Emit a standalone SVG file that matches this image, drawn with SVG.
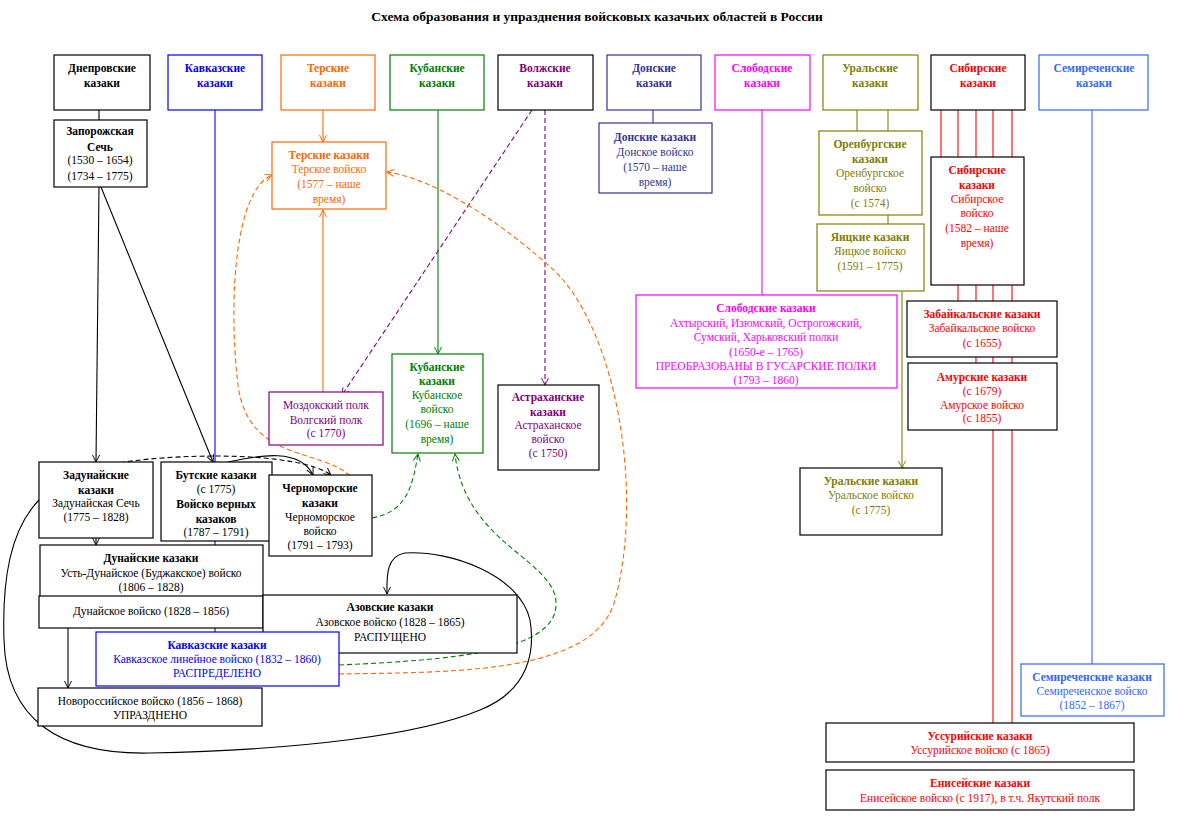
<svg xmlns="http://www.w3.org/2000/svg" width="1181" height="822" viewBox="0 0 1181 822">
<defs>
<style>
text{font-family:"Liberation Serif","Times New Roman",serif;font-size:11.5px;text-anchor:middle}
.b{font-weight:bold}
rect{fill:#fff;stroke-width:1.2}
.k{stroke:#000}.bl{stroke:#0000FF}.or{stroke:#FF6600}.gr{stroke:#008000}.pu{stroke:#800080}.nv{stroke:#333399}.mg{stroke:#FF00FF}.ol{stroke:#808000}.rd{stroke:#FF0000}.sb{stroke:#3366FF}
.tk{fill:#000}.tbl{fill:#0000FF}.tor{fill:#FF6600}.tgr{fill:#008000}.tpu{fill:#800080}.tnv{fill:#333399}.tmg{fill:#FF00FF}.tol{fill:#808000}.trd{fill:#FF0000}.tsb{fill:#3366FF}
path,line{fill:none;stroke-width:1.1}
.d{stroke-dasharray:5,3}
</style>
<marker id="ak" viewBox="0 0 10 10" refX="9" refY="5" markerWidth="8" markerHeight="8" orient="auto"><path d="M1,1 L9,5 L1,9" stroke="#000" fill="none" stroke-width="1.2"/></marker>
<marker id="aor" viewBox="0 0 10 10" refX="9" refY="5" markerWidth="8" markerHeight="8" orient="auto"><path d="M1,1 L9,5 L1,9" stroke="#FF6600" fill="none" stroke-width="1.2"/></marker>
<marker id="agr" viewBox="0 0 10 10" refX="9" refY="5" markerWidth="8" markerHeight="8" orient="auto"><path d="M1,1 L9,5 L1,9" stroke="#008000" fill="none" stroke-width="1.2"/></marker>
<marker id="apu" viewBox="0 0 10 10" refX="9" refY="5" markerWidth="8" markerHeight="8" orient="auto"><path d="M1,1 L9,5 L1,9" stroke="#800080" fill="none" stroke-width="1.2"/></marker>
<marker id="aol" viewBox="0 0 10 10" refX="9" refY="5" markerWidth="8" markerHeight="8" orient="auto"><path d="M1,1 L9,5 L1,9" stroke="#808000" fill="none" stroke-width="1.2"/></marker>
</defs>
<rect x="0" y="0" width="1181" height="822" style="fill:#fff;stroke:none"/>
<text x="597" y="21" class="b" style="font-size:13.5px">Схема образования и упразднения войсковых казачьих областей в России</text>

<g id="connectors">
<line x1="215" y1="110" x2="215" y2="632" stroke="#0000FF"/>
<line x1="99" y1="110" x2="99" y2="120" stroke="#000"/>
<line x1="323" y1="110" x2="323" y2="142" stroke="#FF6600" marker-end="url(#aor)"/>
<line x1="438" y1="110" x2="438" y2="354" stroke="#008000" marker-end="url(#agr)"/>
<line x1="545" y1="110" x2="545" y2="385" stroke="#800080" class="d" marker-end="url(#apu)"/>
<line x1="532" y1="110" x2="342" y2="395" stroke="#800080" class="d" marker-end="url(#apu)"/>
<line x1="653" y1="110" x2="653" y2="123" stroke="#333399"/>
<line x1="762" y1="110" x2="762" y2="295" stroke="#FF00FF"/>
<line x1="857" y1="110" x2="857" y2="131" stroke="#808000"/>
<line x1="888" y1="110" x2="888" y2="131" stroke="#808000"/>
<line x1="888" y1="215" x2="888" y2="224" stroke="#808000"/>
<line x1="902" y1="291" x2="902" y2="468" stroke="#808000" marker-end="url(#aol)"/>
<line x1="941" y1="110" x2="941" y2="157" stroke="#FF0000"/>
<line x1="958" y1="110" x2="958" y2="301" stroke="#FF0000"/>
<line x1="976" y1="110" x2="976" y2="363" stroke="#FF0000"/>
<line x1="993" y1="110" x2="993" y2="723" stroke="#FF0000"/>
<line x1="1012" y1="110" x2="1012" y2="723" stroke="#FF0000"/>
<line x1="1092" y1="110" x2="1092" y2="664" stroke="#3366FF"/>
<line x1="323" y1="392" x2="323" y2="210" stroke="#FF6600" marker-end="url(#aor)"/>
<line x1="99" y1="187" x2="96" y2="462" stroke="#000" marker-end="url(#ak)"/>
<line x1="101" y1="187" x2="213" y2="462" stroke="#000" marker-end="url(#ak)"/>
<line x1="96" y1="538" x2="96" y2="545" stroke="#000" marker-end="url(#ak)"/>
<line x1="68" y1="628" x2="68" y2="688" stroke="#000" marker-end="url(#ak)"/>
<path d="M112,464 C180,452 300,452 331,475" stroke="#000" class="d" marker-end="url(#ak)"/>
<path d="M228,462 C260,455 300,448 313,475" stroke="#000" marker-end="url(#ak)"/>
<path d="M350,476 C320,448 248,462 238,385 C228,300 235,190 272,175" stroke="#FF6600" class="d" marker-end="url(#aor)"/>
<path d="M372,518 C405,512 412,490 418,454" stroke="#008000" class="d" marker-end="url(#agr)"/>
<path d="M339,665 C450,660 555,652 556,605 C558,560 465,545 455,454" stroke="#008000" class="d" marker-end="url(#agr)"/>
<path d="M339,674 C450,672 595,675 615,600 C645,490 615,320 548,265 C492,215 430,178 387,172" stroke="#FF6600" class="d" marker-end="url(#aor)"/>
<path d="M39,500 C10,530 2,580 4,640 C6,720 60,755 150,753 C300,750 420,735 480,710 C530,690 535,650 530,620 C520,575 450,550 405,553 C385,556 387,580 387,594" stroke="#000" marker-end="url(#ak)"/>
</g>

<g id="n-dnepr"><rect x="54" y="55" width="96" height="55" class="k"/><text x="102" y="72" class="b tk">Днепровские</text><text x="102" y="87" class="b tk">казаки</text></g>
<g id="n-kavkaz"><rect x="168" y="55" width="94" height="55" class="bl"/><text x="215" y="72" class="b tbl">Кавказские</text><text x="215" y="87" class="b tbl">казаки</text></g>
<g id="n-terek"><rect x="281" y="55" width="94" height="55" class="or"/><text x="328" y="72" class="b tor">Терские</text><text x="328" y="87" class="b tor">казаки</text></g>
<g id="n-kuban"><rect x="390" y="55" width="94" height="55" class="gr"/><text x="437" y="72" class="b tgr">Кубанские</text><text x="437" y="87" class="b tgr">казаки</text></g>
<g id="n-volga"><rect x="498" y="55" width="95" height="55" class="k"/><text x="545" y="72" class="b tpu">Волжские</text><text x="545" y="87" class="b tpu">казаки</text></g>
<g id="n-don"><rect x="607" y="55" width="94" height="55" class="nv"/><text x="654" y="72" class="b tnv">Донские</text><text x="654" y="87" class="b tnv">казаки</text></g>
<g id="n-slob"><rect x="715" y="55" width="95" height="55" class="mg"/><text x="762" y="72" class="b tmg">Слободские</text><text x="762" y="87" class="b tmg">казаки</text></g>
<g id="n-ural"><rect x="823" y="55" width="95" height="55" class="ol"/><text x="870" y="72" class="b tol">Уральские</text><text x="870" y="87" class="b tol">казаки</text></g>
<g id="n-sib"><rect x="931" y="55" width="94" height="55" class="k"/><text x="978" y="72" class="b trd">Сибирские</text><text x="978" y="87" class="b trd">казаки</text></g>
<g id="n-semi"><rect x="1039" y="55" width="109" height="55" class="sb"/><text x="1094" y="72" class="b tsb">Семиреченские</text><text x="1094" y="87" class="b tsb">казаки</text></g>

<g id="n-zap"><rect x="54" y="120" width="93" height="67" class="k"/><text x="100" y="135" class="b tk">Запорожская</text><text x="100" y="151" class="b tk">Сечь</text><text x="100" y="164">(1530 – 1654)</text><text x="100" y="180">(1734 – 1775)</text></g>
<g id="n-terek2"><rect x="272" y="142" width="114" height="67" class="or"/><text x="329" y="159" class="b tor">Терские казаки</text><text x="329" y="173" class="tor">Терское войско</text><text x="329" y="188" class="tor">(1577 – наше</text><text x="329" y="203" class="tor">время)</text></g>
<g id="n-don2"><rect x="599" y="123" width="113" height="70" class="nv"/><text x="655" y="141" class="b tnv">Донские казаки</text><text x="655" y="156" class="tnv">Донское войско</text><text x="655" y="171" class="tnv">(1570 – наше</text><text x="655" y="186" class="tnv">время)</text></g>
<g id="n-orenb"><rect x="819" y="131" width="103" height="84" class="ol"/><text x="870" y="148" class="b tol">Оренбургские</text><text x="870" y="163" class="b tol">казаки</text><text x="870" y="177" class="tol">Оренбургское</text><text x="870" y="192" class="tol">войско</text><text x="870" y="207" class="tol">(с 1574)</text></g>
<g id="n-sib2"><rect x="931" y="157" width="93" height="128" class="k"/><text x="977" y="174" class="b trd">Сибирские</text><text x="977" y="189" class="b trd">казаки</text><text x="977" y="203" class="trd">Сибирское</text><text x="977" y="217" class="trd">войско</text><text x="977" y="232" class="trd">(1582 – наше</text><text x="977" y="247" class="trd">время)</text></g>
<g id="n-yaik"><rect x="817" y="224" width="107" height="67" class="ol"/><text x="870" y="241" class="b tol">Яицкие казаки</text><text x="870" y="255" class="tol">Яицкое войско</text><text x="870" y="270" class="tol">(1591 – 1775)</text></g>
<g id="n-slob2"><rect x="636" y="295" width="261" height="93" class="mg"/><text x="766" y="312" class="b tmg">Слободские казаки</text><text x="766" y="327" class="tmg">Ахтырский, Изюмский, Острогожский,</text><text x="766" y="341" class="tmg">Сумский, Харьковский полки</text><text x="766" y="356" class="tmg">(1650-е – 1765)</text><text x="766" y="370" class="tmg">ПРЕОБРАЗОВАНЫ В ГУСАРСКИЕ ПОЛКИ</text><text x="766" y="384" class="tmg">(1793 – 1860)</text></g>
<g id="n-zabayk"><rect x="907" y="301" width="150" height="56" class="k"/><text x="982" y="318" class="b trd">Забайкальские казаки</text><text x="982" y="332" class="trd">Забайкальское войско</text><text x="982" y="347" class="trd">(с 1655)</text></g>
<g id="n-amur"><rect x="908" y="363" width="149" height="67" class="k"/><text x="982" y="381" class="b trd">Амурские казаки</text><text x="982" y="395" class="trd">(с 1679)</text><text x="982" y="409" class="trd">Амурское войско</text><text x="982" y="422" class="trd">(с 1855)</text></g>
<g id="n-mozdok"><rect x="269" y="392" width="114" height="53" class="pu"/><text x="326" y="409" class="tpu">Моздокский полк</text><text x="326" y="424" class="tpu">Волгский полк</text><text x="326" y="437" class="tpu">(с 1770)</text></g>
<g id="n-kuban2"><rect x="392" y="354" width="91" height="99" class="gr"/><text x="437" y="371" class="b tgr">Кубанские</text><text x="437" y="385" class="b tgr">казаки</text><text x="437" y="399" class="tgr">Кубанское</text><text x="437" y="413" class="tgr">войско</text><text x="437" y="428" class="tgr">(1696 – наше</text><text x="437" y="443" class="tgr">время)</text></g>
<g id="n-astr"><rect x="498" y="385" width="101" height="85" class="k"/><text x="548" y="401" class="b tpu">Астраханские</text><text x="548" y="416" class="b tpu">казаки</text><text x="548" y="429" class="tpu">Астраханское</text><text x="548" y="443" class="tpu">войско</text><text x="548" y="457" class="tpu">(с 1750)</text></g>
<g id="n-ural2"><rect x="800" y="468" width="142" height="67" class="k"/><text x="871" y="485" class="b tol">Уральские казаки</text><text x="871" y="499" class="tol">Уральское войско</text><text x="871" y="514" class="tol">(с 1775)</text></g>
<g id="n-semi2"><rect x="1021" y="664" width="143" height="52" class="sb"/><text x="1092" y="681" class="b tsb">Семиреченские казаки</text><text x="1092" y="695" class="tsb">Семиреченское войско</text><text x="1092" y="709" class="tsb">(1852 – 1867)</text></g>
<g id="n-ussur"><rect x="826" y="723" width="308" height="39" class="k"/><text x="980" y="740" class="b trd">Уссурийские казаки</text><text x="980" y="754" class="trd">Уссурийское войско (с 1865)</text></g>
<g id="n-enis"><rect x="826" y="770" width="308" height="40" class="k"/><text x="980" y="787" class="b trd">Енисейские казаки</text><text x="980" y="802" class="trd">Енисейское войско (с 1917), в т.ч. Якутский полк</text></g>

<g id="n-zadun"><rect x="39" y="462" width="114" height="76" class="k"/><text x="96" y="479" class="b tk">Задунайские</text><text x="96" y="494" class="b tk">казаки</text><text x="96" y="507">Задунайская Сечь</text><text x="96" y="521">(1775 – 1828)</text></g>
<g id="n-butsk"><rect x="161" y="462" width="111" height="79" class="k"/><text x="216" y="479" class="b tk">Бутские казаки</text><text x="216" y="493">(с 1775)</text><text x="216" y="508" class="b tk">Войско верных</text><text x="216" y="523" class="b tk">казаков</text><text x="216" y="536">(1787 – 1791)</text></g>
<g id="n-chern"><rect x="269" y="475" width="103" height="81" class="k"/><text x="320" y="492" class="b tk">Черноморские</text><text x="320" y="507" class="b tk">казаки</text><text x="320" y="521">Черноморское</text><text x="320" y="535">войско</text><text x="320" y="549">(1791 – 1793)</text></g>
<g id="n-dunk"><rect x="40" y="545" width="223" height="57" class="k"/><text x="151" y="562" class="b tk">Дунайские казаки</text><text x="151" y="577">Усть-Дунайское (Буджакское) войско</text><text x="151" y="591">(1806 – 1828)</text></g>
<g id="n-dunv"><rect x="39" y="596" width="224" height="32" class="k"/><text x="151" y="615">Дунайское войско (1828 – 1856)</text></g>
<g id="n-azov"><rect x="263" y="595" width="254" height="58" class="k"/><text x="390" y="611" class="b tk">Азовские казаки</text><text x="390" y="626">Азовское войско (1828 – 1865)</text><text x="390" y="641">РАСПУЩЕНО</text></g>
<g id="n-kavkaz2"><rect x="96" y="632" width="243" height="54" class="bl"/><text x="217" y="649" class="b tbl">Кавказские казаки</text><text x="217" y="663" class="tbl">Кавказское линейное войско (1832 – 1860)</text><text x="217" y="677" class="tbl">РАСПРЕДЕЛЕНО</text></g>
<g id="n-novor"><rect x="38" y="688" width="224" height="38" class="k"/><text x="150" y="705">Новороссийское войско (1856 – 1868)</text><text x="150" y="719">УПРАЗДНЕНО</text></g>
</svg>
